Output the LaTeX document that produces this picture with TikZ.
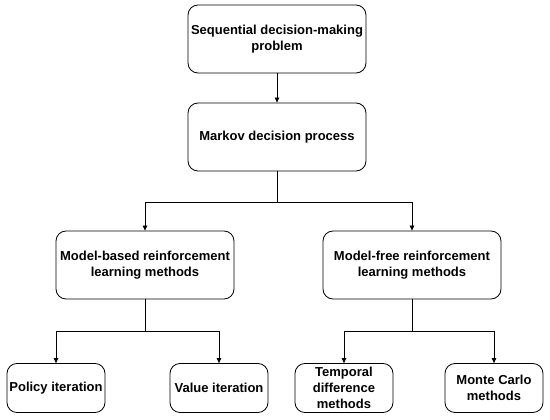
\documentclass[tikz,border=0pt]{standalone}
\usepackage{fontspec}
\setmainfont{Liberation Sans}
\usetikzlibrary{arrows.meta}
\begin{document}
\begin{tikzpicture}[x=1pt, y=-1pt, >={Triangle[length=5pt,width=4.5pt]},
  box/.style={draw, line width=0.8pt, rounded corners=10pt, align=center,
    font=\bfseries\fontsize{13}{16}\selectfont, inner sep=1pt},
  bigbox/.style={box, minimum width=178pt, minimum height=68pt},
  leaf/.style={box, minimum width=98pt, minimum height=49pt}]
\useasboundingbox (0,0) rectangle (550,420);
\node[bigbox] (seq) at (277,39) {Sequential decision-making\\problem};
\node[bigbox] (mdp) at (277,137) {Markov decision process};
\node[bigbox] (mb) at (145,265) {Model-based reinforcement\\learning methods};
\node[bigbox] (mf) at (412,265) {Model-free reinforcement\\learning methods};
\node[leaf] (pi) at (56,388) {Policy iteration};
\node[leaf] (vi) at (219,388) {Value iteration};
\node[leaf] (td) at (344,388) {Temporal\\difference\\methods};
\node[leaf] (mc) at (494,388) {Monte Carlo\\methods};
% connectors
\coordinate (s1) at (277,202);
\coordinate (s2) at (145,331);
\coordinate (s3) at (412,331);
\draw[->, line width=0.8pt] (seq) -- (mdp);
\draw[line width=0.8pt] (mdp) -- (s1);
\draw[->, line width=0.8pt] (s1) -| (mb);
\draw[->, line width=0.8pt] (s1) -| (mf);
\draw[line width=0.8pt] (mb) -- (s2);
\draw[->, line width=0.8pt] (s2) -| (pi);
\draw[->, line width=0.8pt] (s2) -| (vi);
\draw[line width=0.8pt] (mf) -- (s3);
\draw[->, line width=0.8pt] (s3) -| (td);
\draw[->, line width=0.8pt] (s3) -| (mc);
\end{tikzpicture}
\end{document}
